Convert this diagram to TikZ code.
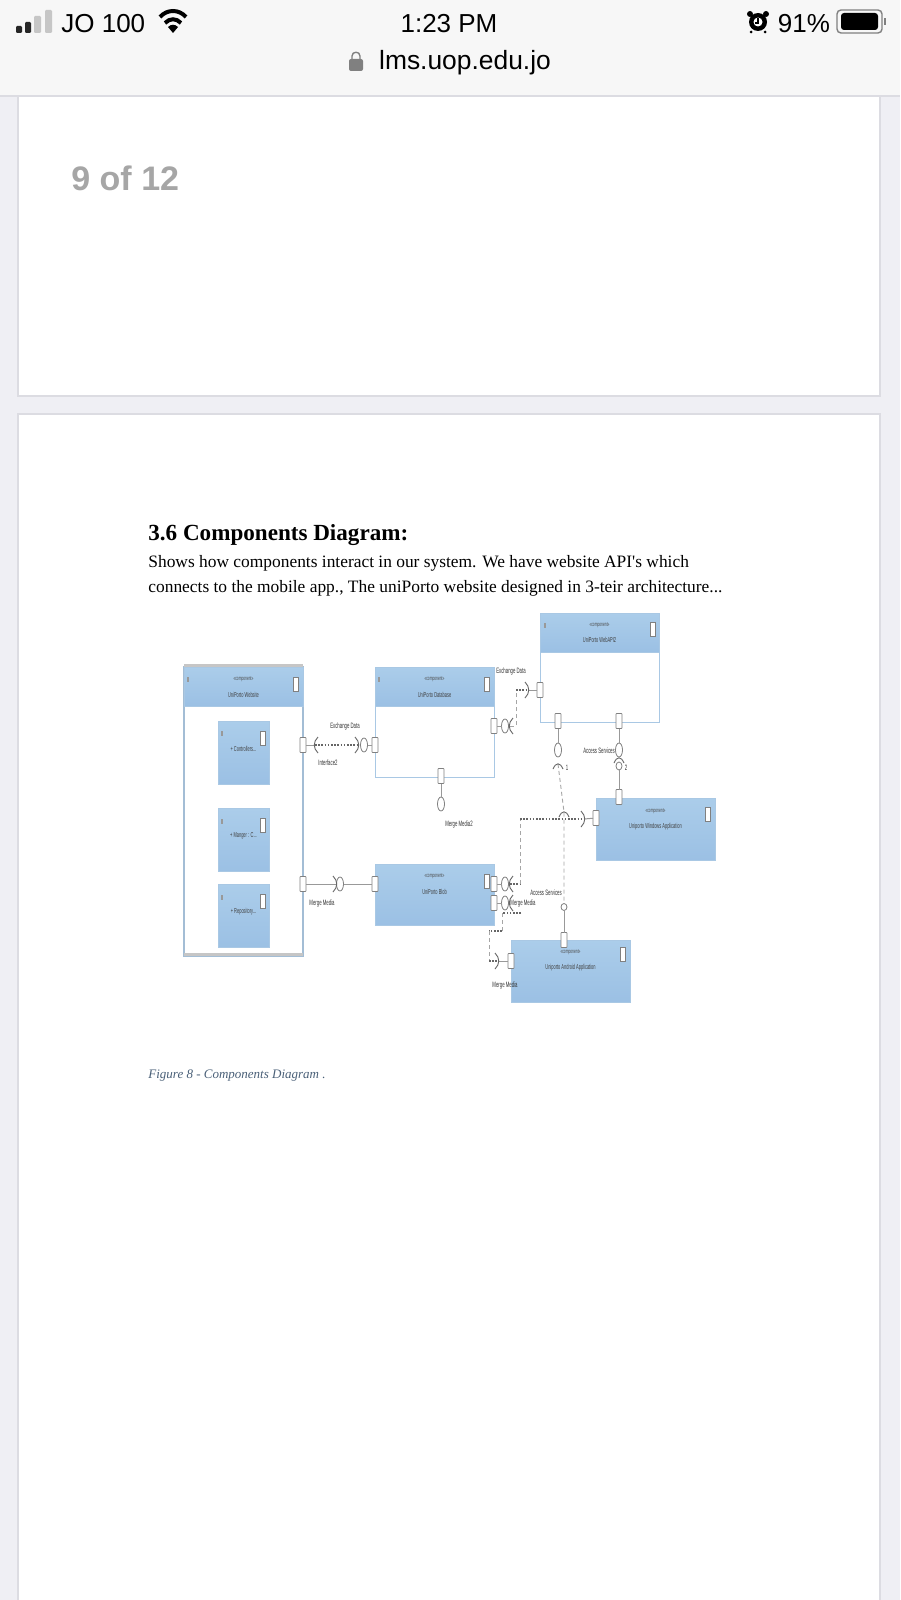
\documentclass[tikz,border=0pt]{standalone}
\usepackage{fontspec}
\usepackage{graphicx}
\setmainfont{Liberation Sans}
\newfontfamily\serif{Liberation Serif}
\usetikzlibrary{shapes.geometric}
\definecolor{pagebg}{HTML}{EFEFF4}
\definecolor{barbg}{HTML}{F7F7F7}
\definecolor{edge}{HTML}{DCDCE2}
\definecolor{blueA}{HTML}{ABCDEA}
\definecolor{blueB}{HTML}{9BC0E4}
\definecolor{blueL}{HTML}{A9C8E4}
\definecolor{capt}{HTML}{4A6078}
\newcommand{\fs}[1]{\fontsize{#1}{#1}\selectfont}
\newcommand{\nx}[1]{\scalebox{0.55}[1]{#1}}
\tikzset{
  x=0.5pt,y=-0.5pt,
  sz/.style 2 args={minimum width=#1*0.5pt,minimum height=#2*0.5pt,inner sep=0pt,outer sep=0pt},
  body/.style={draw=blueL,line width=0.45pt,fill=white},
  head/.style={draw=blueL,line width=0.4pt,top color=blueA,bottom color=blueB},
  outerbox/.style={draw=blueL!85!gray,line width=0.9pt,fill=white},
  port/.style={draw=gray,fill=white,line width=0.4pt,rounded corners=0.3pt,sz={6}{15}},
  ball/.style={ellipse,draw=gray,fill=white,line width=0.4pt,sz={7}{14}},
  ico/.style={draw=gray,fill=white,line width=0.3pt,sz={5}{14}},
  pin/.style={fill=gray!80,sz={2.5}{5}},
  stereo/.style={font=\fs{3},text=black!70,inner sep=0pt},
  cname/.style={font=\fs{3.6},text=black!75,inner sep=0pt},
  lbl/.style={font=\fs{3.9},text=black!80,inner sep=0pt},
  solidc/.style={draw=gray!80,line width=0.5pt},
  dashc/.style={draw=gray!70,line width=0.45pt,dash pattern=on 2pt off 1.5pt},
  dotc/.style={draw=black!60,line width=0.55pt,dash pattern=on 0.8pt off 0.8pt},
  sock/.style={draw=gray!80!black,line width=0.45pt},
  sockL/.pic={\draw[sock] (3,-8) .. controls (-2,-3) and (-2,3) .. (3,8);},
  sockR/.pic={\draw[sock] (-3,-8) .. controls (2,-3) and (2,3) .. (-3,8);},
  sockU/.pic={\draw[sock] (-5,5) .. controls (-2,-2) and (2,-2) .. (5,5);},
}
\begin{document}
\begin{tikzpicture}
\useasboundingbox (0,0) rectangle (900,1600);
% page
\fill[pagebg] (0,0) rectangle (900,1600);
\filldraw[fill=white,draw=edge,line width=0.8pt] (18,90) rectangle (880,396);
\filldraw[fill=white,draw=edge,line width=0.8pt] (18,414) rectangle (880,1610);
\fill[barbg] (0,0) rectangle (900,96);
\draw[edge,line width=0.6pt] (0,96) -- (900,96);
% status bar
\fill[black!85,rounded corners=0.6pt] (16,26) rectangle (22,33);
\fill[black!85,rounded corners=0.6pt] (25,22) rectangle (31,33);
\fill[gray!45,rounded corners=0.6pt] (34,16) rectangle (41,33);
\fill[gray!45,rounded corners=0.6pt] (45,10) rectangle (52,33);
\node[font=\fs{13},inner sep=0pt,anchor=west] (carrier) at (61,24) {JO 100};
\draw[black,line width=2pt] (160,17) .. controls (167,9) and (179,9) .. (186,17);
\draw[black,line width=2pt] (165,23) .. controls (170,18) and (176,18) .. (181,23);
\fill[black] (168,27) .. controls (171,24) and (175,24) .. (178,27) -- (173,33) -- cycle;
\node[font=\fs{13},inner sep=0pt] (clock) at (449,24) {1:23 PM};
\fill[black] (758,22) circle[radius=9];
\fill[black] (750,14) circle[radius=3];
\fill[black] (766,14) circle[radius=3];
\fill[black] (751,32) circle[radius=1.5];
\fill[black] (765,32) circle[radius=1.5];
\fill[white] (758,22) circle[radius=4.5];
\draw[black,line width=0.6pt] (758,18) -- (758,23) -- (755,23);
\node[font=\fs{13},inner sep=0pt] (pct) at (804,24) {91\%};
\draw[gray,line width=0.7pt,rounded corners=2pt] (837,10) rectangle (882,33);
\fill[black,rounded corners=1.5pt] (841,13) rectangle (878,30);
\fill[gray] (884,18) rectangle (886,25);
\fill[gray,rounded corners=1pt] (349,59) rectangle (363,71);
\draw[gray,line width=0.7pt] (352,60) -- (352,56) .. controls (352,51) and (360,51) .. (360,56) -- (360,60);
\node[font=\fs{13.2},inner sep=0pt] (url) at (465,63) {lms.uop.edu.jo};
\node[font=\bfseries\fs{17},text=gray!70,inner sep=0pt,anchor=west] (pageno) at (71,178) {9 of 12};
% text
\node[font=\serif\bfseries\fs{11.55},inner sep=0pt,anchor=west] (title) at (148,535) {3.6 Components Diagram:};
\node[font=\serif\fs{8.7},inner sep=0pt,anchor=west] (line1) at (148,563) {Shows how components interact in our system. We have website API's which};
\node[font=\serif\fs{8.7},inner sep=0pt,anchor=west] (line2) at (148,588) {connects to the mobile app., The uniPorto website designed in 3-teir architecture...};
\node[font=\serif\itshape\fs{6.5},text=capt,inner sep=0pt,anchor=west] (capt) at (148,1076) {Figure 8 - Components Diagram .};
% website
\node[outerbox,sz={119}{289}] (web) at (243.5,811.5) {};
\fill[gray!45] (184,664) rectangle (303,667);
\fill[gray!45] (184,953) rectangle (303,956);
\node[head,sz={119}{39}] (webh) at (243.5,686.5) {};
\node[stereo] (webs) at (243.5,679) {\nx{«component»}};
\node[cname] (webn) at (243.5,695) {\nx{UniPorto Website}};
\node[ico] (webi) at (296,684) {};
\node[pin] (webp) at (188,679) {};
\node[head,sz={51}{63}] (ctl) at (243.5,752.5) {};
\node[cname] (ctlt) at (243.5,749) {\nx{+ Controllers...}};
\node[ico] (ctli) at (263,738) {};
\node[pin] (ctlp) at (222,733) {};
\node[head,sz={51}{63}] (mgr) at (243.5,840) {};
\node[cname] (mgrt) at (243.5,836) {\nx{+ Manger : C...}};
\node[ico] (mgri) at (263,825) {};
\node[pin] (mgrp) at (222,821) {};
\node[head,sz={51}{63}] (rep) at (243.5,916) {};
\node[cname] (rept) at (243.5,912) {\nx{+ Repository...}};
\node[ico] (repi) at (263,901) {};
\node[pin] (repp) at (222,897) {};
% database
\node[body,sz={119}{110}] (db) at (434.5,722) {};
\node[head,sz={119}{39}] (dbh) at (434.5,686.5) {};
\node[stereo] (dbs) at (434.5,679) {\nx{«component»}};
\node[cname] (dbn) at (434.5,695) {\nx{UniPorto Database}};
\node[ico] (dbi) at (487,684) {};
\node[pin] (dbp) at (379,679) {};
% blob
\node[head,sz={119}{61}] (blob) at (434.5,894.5) {};
\node[stereo] (blobs) at (434.5,876) {\nx{«component»}};
\node[cname] (blobn) at (434.5,892) {\nx{UniPorto Blob}};
\node[ico] (blobi) at (487,881) {};
% webapi
\node[body,sz={119}{109}] (api) at (599.5,667.5) {};
\node[head,sz={119}{39}] (apih) at (599.5,632.5) {};
\node[stereo] (apis) at (599.5,625) {\nx{«component»}};
\node[cname] (apin) at (599.5,640) {\nx{UniPorto WebAPI2}};
\node[ico] (apii) at (653,629) {};
\node[pin] (apip) at (545,625) {};
% windows
\node[head,sz={119}{62}] (win) at (655.5,829) {};
\node[stereo] (wins) at (655.5,811) {\nx{«component»}};
\node[cname] (winn) at (655.5,827) {\nx{Uniporto Windows Application}};
\node[ico] (wini) at (708,814) {};
% android
\node[head,sz={119}{62}] (and) at (570.5,971) {};
\node[stereo] (ands) at (570.5,952) {\nx{«component»}};
\node[cname] (andn) at (570.5,968) {\nx{Uniporto Android Application}};
\node[ico] (andi) at (623,954) {};
% ports
\node[port] (pw1) at (303,745) {};
\node[port] (pw2) at (303,884) {};
\node[port] (pd1) at (375,745) {};
\node[port] (pd2) at (441,776) {};
\node[port] (pd3) at (494,726) {};
\node[port] (pb1) at (375,884) {};
\node[port] (pb2) at (494,884) {};
\node[port] (pb3) at (494,903) {};
\node[port] (pa1) at (540,690) {};
\node[port] (pa2) at (558,721) {};
\node[port] (pa3) at (619,721) {};
\node[port] (pv1) at (619,797) {};
\node[port] (pv2) at (596,818) {};
\node[port] (pn1) at (564,940) {};
\node[port] (pn2) at (511,961) {};
% balls
\node[ball] (b1) at (364,745) {};
\node[ball] (b2) at (441,804) {};
\node[ball] (b3) at (340,884) {};
\node[ball] (b4) at (505,726) {};
\node[ball] (b5) at (558,750) {};
\node[ball] (b6) at (619,750) {};
\node[ball] (b7) at (505,884) {};
\node[ball] (b8) at (505,903) {};
\node[ball,sz={6}{7}] (b9) at (564,907) {};
\node[ball,sz={6}{8}] (b10) at (619,766) {};
% sockets and bends
\coordinate (s1) at (315,745); \coordinate (s1b) at (358,745);
\coordinate (s3) at (335,884);
\coordinate (s4) at (510,726); \coordinate (k4) at (516,726); \coordinate (k4b) at (516,690); \coordinate (s4b) at (528,690);
\coordinate (s5) at (558,764); \coordinate (s5b) at (564,812);
\coordinate (s6) at (619,758);
\coordinate (s7) at (510,884); \coordinate (k7) at (520,884); \coordinate (k7b) at (520,819); \coordinate (s7b) at (584,819);
\coordinate (s8) at (510,903); \coordinate (k8a) at (521,913); \coordinate (k8b) at (502,913); \coordinate (k8c) at (502,931); \coordinate (k8d) at (489,931); \coordinate (k8e) at (489,961); \coordinate (s8b) at (498,961);
% connectors
\draw[solidc] (pw1) -- (s1);
\draw[dotc] (s1) -- (s1b);
\draw[solidc] (b1) -- (pd1);
\draw[solidc] (pd2) -- (b2);
\draw[solidc] (pw2) -- (b3);
\draw[solidc] (b3) -- (pb1);
\draw[solidc] (pd3) -- (b4);
\draw[dashc] (s4) -- (k4) -- (k4b);
\draw[dotc] (k4b) -- (s4b);
\draw[solidc] (s4b) -- (pa1);
\draw[solidc] (pa2) -- (b5);
\draw[dashc] (s5) -- (s5b) -- (b9);
\draw[solidc] (b9) -- (pn1);
\draw[solidc] (pa3) -- (b6);
\draw[solidc] (b10) -- (pv1);
\draw[solidc] (pb2) -- (b7);
\draw[dotc] (s7) -- (k7);
\draw[dashc] (k7) -- (k7b);
\draw[dotc] (k7b) -- (s7b);
\draw[solidc] (s7b) -- (pv2);
\draw[solidc] (pb3) -- (b8);
\draw[dotc] (k8a) -- (k8b);
\draw[dashc] (k8b) -- (k8c);
\draw[dotc] (k8c) -- (k8d);
\draw[dashc] (k8d) -- (k8e);
\draw[dotc] (k8e) -- (s8b);
\draw[solidc] (s8b) -- (pn2);
% socket arcs
\pic at (s1) {sockL};
\pic at (358,745) {sockR};
\pic at (336,884) {sockR};
\pic at (s4) {sockL};
\pic at (s4b) {sockR};
\pic at (s5) {sockU};
\pic at (s5b) {sockU};
\pic at (s6) {sockU};
\pic at (s7) {sockL};
\pic at (s7b) {sockR};
\pic at (s8) {sockL};
\pic at (s8b) {sockR};
% labels
\node[lbl] (l1) at (345,726) {\nx{Exchange Data}};
\node[lbl] (l2) at (328,763) {\nx{Interface2}};
\node[lbl] (l3) at (459,824) {\nx{Merge Media2}};
\node[lbl] (l4) at (322,903) {\nx{Merge Media}};
\node[lbl] (l5) at (511,671) {\nx{Exchange Data}};
\node[lbl] (l6) at (599,751) {\nx{Access Services}};
\node[lbl] (l7) at (546,893) {\nx{Access Services}};
\node[lbl] (l8) at (523,903) {\nx{Merge Media}};
\node[lbl] (l9) at (505,985) {\nx{Merge Media}};
\node[lbl] (n1) at (567,768) {\nx{1}};
\node[lbl] (n2) at (626,768) {\nx{2}};
\end{tikzpicture}
\end{document}
